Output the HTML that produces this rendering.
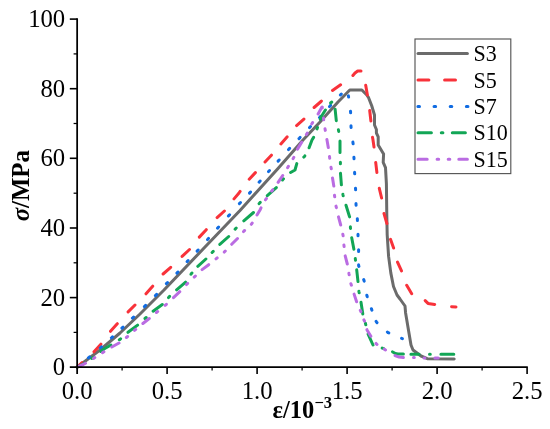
<!DOCTYPE html>
<html><head><meta charset="utf-8"><title>Stress-strain curves</title>
<style>html,body{margin:0;padding:0;background:#fff}svg{display:block}text{font-family:"Liberation Serif","Times New Roman",serif;fill:#000}</style></head><body>
<svg width="550" height="429" viewBox="0 0 550 429">
<rect width="550" height="429" fill="#fff"/>
<g fill="none" stroke-width="3.0" stroke-linecap="round" stroke-linejoin="round">
<polyline stroke="#6b6b6b" points="77.1,367.2 100.0,350.0 120.0,333.0 140.0,314.0 164.0,290.0 205.0,247.0 240.0,210.5 278.0,168.5 303.0,140.0 320.0,122.0 338.0,102.0 349.8,90.0 361.9,90.0 366.8,95.0 368.6,97.7 371.8,106.0 374.5,115.0 374.5,125.0 376.4,129.5 376.4,133.0 378.2,136.8 378.2,145.0 383.6,154.0 383.2,162.3 385.5,167.7 386.4,183.6 386.8,215.0 387.2,235.0 388.6,256.4 390.8,272.9 393.5,286.5 397.0,295.0 400.0,299.0 405.0,306.0 405.6,313.0 411.0,345.0 413.0,350.0 421.0,356.0 427.3,358.7 454.2,359.0"/>
<path stroke="#f8323a" d="M77.1 367.2 L82.1 362.7 M94.0 351.8 L100.9 344.2 M110.5 331.3 L117.0 324.0 L117.3 323.7 M128.1 311.9 L135.0 305.0 L135.0 305.0 M146.0 293.8 L152.0 287.0 L152.7 286.2 M163.1 274.0 L170.7 267.3 M182.1 256.4 L189.5 249.5 M199.3 237.1 L206.0 230.0 L206.3 229.6 M217.1 217.6 L224.4 211.0 M234.0 198.9 L239.0 193.0 L240.1 191.4 M249.2 179.2 L255.4 172.6 M265.0 162.0 L271.4 155.2 M280.9 143.9 L287.0 137.0 L287.1 136.9 M296.6 125.6 L303.9 119.1 M314.1 107.5 L321.0 101.5 L321.4 101.1 M332.5 90.4 L340.6 84.8 M352.9 75.5 L355.0 73.0 L357.7 71.0 L361.0 71.0 M365.7 85.2 L367.4 95.0 M369.7 110.5 L370.9 121.0 M372.5 137.3 L373.0 140.0 L374.0 147.0 M375.7 162.4 L376.9 172.5 M379.3 188.3 L381.6 198.0 M384.0 213.5 L386.9 223.5 M390.5 239.3 L393.6 248.0 M397.5 262.1 L401.5 270.9 M406.7 285.3 L411.7 293.7 M425.2 300.6 L428.0 303.4 L434.7 304.4 M451.6 306.7 L456.0 307.0"/>
<path stroke="#116ce2" d="M88.4 357.9 L89.0 357.4 L89.6 356.9 M100.4 347.9 L101.0 347.4 L101.6 346.9 M111.4 337.9 L112.0 337.4 L112.5 336.9 M121.9 328.1 L122.4 327.6 L123.0 327.1 M132.4 318.1 L133.0 317.6 L133.6 317.0 M144.4 306.6 L145.0 306.0 L145.6 305.4 M155.4 295.6 L156.0 295.0 L156.6 294.4 M166.4 283.6 L167.0 283.0 L167.5 282.5 M176.9 273.1 L177.4 272.6 L177.9 272.0 M187.1 261.6 L187.6 261.0 L188.1 260.5 M197.1 251.1 L197.6 250.6 L198.1 250.0 M207.5 239.6 L208.0 239.0 L208.5 238.4 M217.5 228.2 L218.0 227.6 L218.6 227.0 M228.4 216.0 L229.0 215.4 L229.6 214.8 M239.4 203.6 L240.0 203.0 L240.5 202.5 M249.5 193.1 L250.0 192.6 L250.5 192.0 M259.1 182.2 L259.6 181.6 L260.1 181.0 M268.5 171.6 L269.0 171.0 L269.5 170.5 M278.1 161.1 L278.6 160.6 L279.1 160.0 M288.5 149.6 L289.0 149.0 L289.6 148.4 M299.0 138.6 L299.6 138.0 L300.1 137.4 M309.5 127.6 L310.0 127.0 L310.5 126.5 M319.5 117.5 L320.0 117.0 L320.5 116.4 M329.5 106.6 L330.0 106.0 L330.6 105.4 M340.4 95.0 L341.0 94.4 L341.3 94.1 M348.4 95.9 L348.5 96.3 L348.6 97.1 M350.5 111.2 L350.6 112.0 L350.6 112.8 M351.0 125.8 L351.0 126.6 L351.1 127.5 M352.9 142.1 L353.0 143.0 L353.1 143.8 M353.9 157.2 L354.0 158.0 L354.0 158.8 M354.6 172.2 L354.6 173.0 L354.7 173.8 M355.5 188.2 L355.6 189.0 L355.6 189.8 M356.0 203.6 L356.0 204.4 L356.1 205.2 M357.3 218.8 L357.4 219.6 L357.4 220.4 M358.0 234.2 L358.0 235.0 L358.0 235.8 M358.6 249.8 L358.6 250.6 L358.6 251.4 M358.6 264.8 L358.6 265.6 L358.9 266.4 M363.7 279.6 L364.0 280.4 L364.2 281.2 M366.8 295.2 L367.0 296.0 L367.2 296.7 M371.4 308.7 L371.6 309.4 L371.9 310.1 M376.1 321.3 L376.4 322.0 L377.0 322.6 M387.4 332.0 L388.0 332.6 L388.8 332.9 M401.6 338.3 L402.4 338.6"/>
<path stroke="#12a656" d="M77.1 367.2 L83.4 363.7 M91.7 358.5 L93.1 357.6 M100.8 351.5 L104.0 349.0 L110.9 345.0 M119.3 339.8 L120.0 339.4 L120.6 338.8 M128.0 332.3 L137.6 325.1 M145.0 318.5 L145.6 318.0 L146.2 317.5 M153.1 311.2 L162.3 304.5 M168.5 297.6 L169.0 297.0 L169.6 296.4 M176.6 289.8 L185.6 282.2 M191.0 274.3 L191.4 273.6 L191.9 273.0 M197.8 266.3 L205.9 259.0 M212.1 252.5 L212.6 252.0 L213.2 251.4 M219.8 244.4 L228.7 236.5 M235.1 229.2 L235.6 228.6 L236.2 228.0 M243.8 220.8 L253.5 212.5 M259.1 203.7 L259.6 203.0 L260.2 202.4 M267.3 195.7 L276.3 187.6 M282.5 180.0 L283.0 179.4 L283.5 178.8 M290.6 172.5 L295.0 170.0 L296.8 163.6 M303.8 157.1 L304.4 156.6 L304.8 155.9 M309.1 147.8 L312.0 140.0 L313.6 137.4 M317.0 128.9 L317.5 127.5 M320.3 119.2 L321.0 117.0 L325.4 110.0 M330.6 103.0 L331.0 102.5 L331.7 102.1 M335.1 109.2 L336.3 120.7 M338.4 129.8 L338.6 130.6 L338.7 131.4 M340.0 140.9 L340.0 152.6 M340.4 162.2 L340.4 163.0 L340.4 163.8 M340.5 173.3 L341.4 184.8 M342.9 194.2 L343.0 195.0 L343.2 195.8 M346.0 205.3 L349.0 215.0 L349.6 216.9 M350.4 226.8 L350.4 227.6 L350.5 228.4 M351.7 237.8 L353.9 249.2 M355.3 258.6 L355.4 259.4 L355.5 260.2 M356.7 269.8 L358.0 281.6 M358.9 291.2 L359.0 292.0 L359.2 292.8 M361.0 302.3 L362.8 313.9 M365.4 323.2 L365.6 324.0 L365.8 324.8 M368.1 334.2 L373.0 345.0 L373.0 345.0 M382.2 348.1 L383.0 348.4 L383.8 348.6"/>
<path stroke="#12a656" d="M392.5 351.8 Q395 353.8 398 354.1 H403.4 M410.9 354.2 H419.1 M429.5 354.2 h0.8 M440.9 354.2 H453.8"/>
<path stroke="#ba6ce2" d="M78.1 366.7 L83.3 364.5 L85.5 363.2 M93.5 358.5 L94.8 357.6 M102.5 352.7 L103.9 351.8 M111.8 347.0 L119.0 343.0 M126.4 337.5 L127.0 337.0 L127.6 336.5 M134.5 330.4 L135.0 330.0 L135.7 329.4 M142.9 323.5 L149.3 318.5 M156.4 312.5 L157.0 312.0 L157.7 311.5 M165.1 305.4 L165.6 305.0 L166.4 304.3 M173.5 297.6 L179.8 291.7 M186.5 284.6 L187.6 283.4 M194.2 277.1 L195.0 276.4 L195.4 276.0 M202.1 269.6 L208.7 264.7 M216.0 258.9 L216.6 258.4 L217.2 257.9 M224.3 252.1 L225.3 251.0 M231.7 244.3 L237.5 238.5 M243.5 231.6 L244.0 231.0 L244.6 230.5 M251.3 224.3 L251.6 224.0 L252.2 223.0 M257.0 215.0 L257.0 215.0 L260.0 210.0 L261.0 207.9 M265.5 199.8 L266.0 199.0 L266.4 198.5 M271.7 191.1 L272.7 189.8 M278.1 182.3 L282.7 175.5 M287.6 167.7 L288.0 167.0 L288.4 166.3 M293.1 158.7 L293.8 157.3 M297.5 149.1 L301.7 142.3 M306.4 134.5 L307.0 133.5 L307.2 133.1 M311.7 124.0 L312.6 122.6 M318.1 113.9 L321.8 107.3 L322.2 107.0 L322.3 108.0 M323.5 118.1 L323.6 119.0 L323.7 119.8 M325.0 128.8 L325.3 130.4 M326.9 139.4 L328.3 147.5 M329.5 156.6 L329.6 157.4 L329.7 158.2 M331.0 167.2 L331.3 168.8 M332.5 177.9 L333.8 186.0 M334.5 195.2 L334.6 196.0 L334.7 196.8 M336.0 206.1 L336.4 207.7 M338.5 216.9 L340.7 225.0 M342.8 234.2 L343.0 235.0 L343.1 235.8 M343.9 245.0 L344.0 245.6 L344.1 246.6 M345.2 255.9 L347.3 264.0 M348.9 273.2 L349.0 274.0 L349.2 274.8 M350.9 283.7 L351.0 284.0 L351.4 285.2 M354.1 294.1 L356.6 301.8 M360.3 310.3 L360.6 311.0 L360.9 311.7 M363.9 319.8 L364.4 321.0 L364.5 321.2 M366.9 329.6 L367.0 330.0 L370.9 336.2 M376.0 343.4 L376.4 344.0 L377.0 344.4 M384.3 349.2 L385.5 350.0"/>
<path stroke="#ba6ce2" d="M395 355.6 L399 357 L403.4 357.5 M413.5 357.6 h0.8 M424.1 358 h0.8 M434.9 358 H438.2"/>
</g>
<g stroke="#000" stroke-width="1.75" fill="none" stroke-linecap="butt">
<path d="M77.15 18.3 V374.0 M69.8 367.2 H527.8"/>
</g><g stroke="#000" fill="none" stroke-linecap="butt">
<path stroke-width="1.25" d="M73.6 332.4 H77.1"/>
<path stroke-width="1.60" d="M69.8 297.6 H77.1"/>
<path stroke-width="1.25" d="M73.6 262.8 H77.1"/>
<path stroke-width="1.60" d="M69.8 228.0 H77.1"/>
<path stroke-width="1.25" d="M73.6 193.2 H77.1"/>
<path stroke-width="1.60" d="M69.8 158.3 H77.1"/>
<path stroke-width="1.25" d="M73.6 123.5 H77.1"/>
<path stroke-width="1.60" d="M69.8 88.7 H77.1"/>
<path stroke-width="1.25" d="M73.6 53.9 H77.1"/>
<path stroke-width="1.60" d="M69.8 19.1 H77.1"/>
<path stroke-width="1.25" d="M122.1 367.2 V370.6"/>
<path stroke-width="1.60" d="M167.1 367.2 V374.0"/>
<path stroke-width="1.25" d="M212.1 367.2 V370.6"/>
<path stroke-width="1.60" d="M257.1 367.2 V374.0"/>
<path stroke-width="1.25" d="M302.1 367.2 V370.6"/>
<path stroke-width="1.60" d="M347.1 367.2 V374.0"/>
<path stroke-width="1.25" d="M392.1 367.2 V370.6"/>
<path stroke-width="1.60" d="M437.1 367.2 V374.0"/>
<path stroke-width="1.25" d="M482.1 367.2 V370.6"/>
<path stroke-width="1.60" d="M527.1 367.2 V374.0"/>
</g>
<g font-size="24.7px">
<text x="65.2" y="375.3" text-anchor="end">0</text>
<text x="65.2" y="305.7" text-anchor="end">20</text>
<text x="65.2" y="236.1" text-anchor="end">40</text>
<text x="65.2" y="166.4" text-anchor="end">60</text>
<text x="65.2" y="96.8" text-anchor="end">80</text>
<text x="65.2" y="27.2" text-anchor="end">100</text>
<text x="77.1" y="398.8" text-anchor="middle">0.0</text>
<text x="167.1" y="398.8" text-anchor="middle">0.5</text>
<text x="257.1" y="398.8" text-anchor="middle">1.0</text>
<text x="347.1" y="398.8" text-anchor="middle">1.5</text>
<text x="437.1" y="398.8" text-anchor="middle">2.0</text>
<text x="527.1" y="398.8" text-anchor="middle">2.5</text>
</g>
<text font-size="24.8px" font-weight="bold" transform="translate(29.2,221.3) rotate(-90)"><tspan font-style="italic">σ</tspan>/MPa</text>
<text font-size="24.5px" font-weight="bold" x="272.5" y="417.6">ε/10<tspan font-size="16.5px" dy="-9.9" dx="0.1">−3</tspan></text>
<rect x="415" y="39" width="95.8" height="134.6" fill="#fff" stroke="#555" stroke-width="1.15"/>
<g fill="none" stroke-width="3.0" stroke-linecap="round">
<path stroke="#6b6b6b" d="M418 53.5 H467.4"/>
<path stroke="#f8323a" stroke-dasharray="10.9 15.7" d="M418 80.0 H467.4"/>
<path stroke="#116ce2" stroke-dasharray="1.6 14.55" d="M417.9 106.4 H468.6"/>
<path stroke="#12a656" stroke-dasharray="13.4 9.9 1.6 9.4" d="M418 132.8 H465.4"/>
<path stroke="#ba6ce2" stroke-dasharray="9.2 9.9 1.6 9.5 1.6 9.0" d="M418 159.3 H467.4"/>
</g>
<g font-size="22.6px">
<text x="473.6" y="61.2" transform="translate(473.6 0) scale(0.975 1) translate(-473.6 0)">S3</text>
<text x="473.6" y="87.7" transform="translate(473.6 0) scale(0.975 1) translate(-473.6 0)">S5</text>
<text x="473.6" y="114.1" transform="translate(473.6 0) scale(0.975 1) translate(-473.6 0)">S7</text>
<text x="473.6" y="140.5" transform="translate(473.6 0) scale(0.975 1) translate(-473.6 0)">S10</text>
<text x="473.6" y="167.0" transform="translate(473.6 0) scale(0.975 1) translate(-473.6 0)">S15</text>
</g>
</svg></body></html>
